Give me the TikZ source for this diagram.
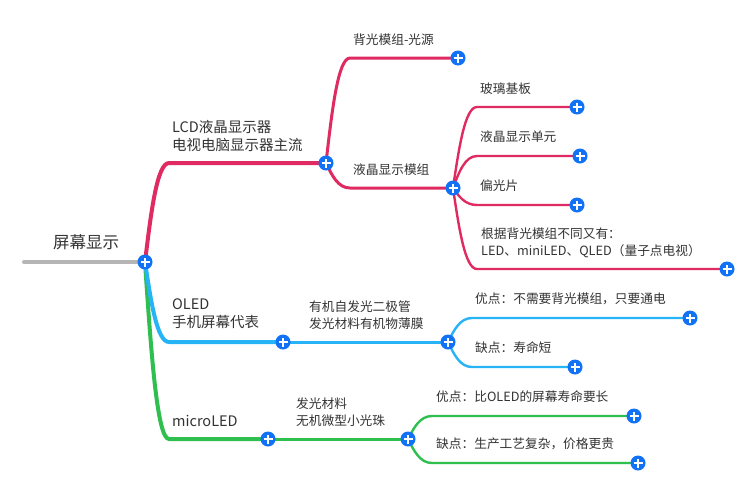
\documentclass[tikz,border=0pt]{standalone}
\usepackage{fontspec}
\setmainfont{Noto Sans CJK SC}
\usetikzlibrary{backgrounds,calc}
\definecolor{lcdc}{HTML}{DF2A62}
\definecolor{oledc}{HTML}{26B4F7}
\definecolor{mledc}{HTML}{2EBF4F}
\definecolor{plusblue}{HTML}{1272F5}
\definecolor{txtc}{HTML}{333333}
\definecolor{rootgray}{HTML}{B5B5B5}
\newcommand\mmbranch[3]{\draw[#1] let \p1=(#2.center), \p2=(#3.center) in (\p1) .. controls (\x1+6,{\y1+0.5*(\y2-\y1)}) and (\x1+12,\y2) .. (\x1+24,\y2) -- (\p2);}
\tikzset{
  plusnode/.style={circle, fill=plusblue, minimum size=15pt, inner sep=0pt,
    path picture={\draw[white, line width=2.2pt]
      (path picture bounding box.center) +(-4.5pt,0) -- +(4.5pt,0)
      (path picture bounding box.center) +(0,-4.5pt) -- +(0,4.5pt);}},
  lab/.style={anchor=west, inner sep=0pt, align=left, text=txtc, font=\fontsize{12.7}{17}\selectfont},
  labone/.style={lab, font=\fontsize{14.5}{18.5}\selectfont},
  labroot/.style={lab, font=\fontsize{16.5}{20}\selectfont},
  wa/.style={line width=4pt, line cap=round},
  wb/.style={line width=3pt, line cap=round},
  wc/.style={line width=2.4pt, line cap=round},
}
\begin{document}
\begin{tikzpicture}[x=1pt, y=-1pt]
\useasboundingbox (0,0) rectangle (744,477);
% plus nodes
\node[plusnode] (p0) at (145,262) {};
\node[plusnode] (p1) at (326,163) {};
\node[plusnode] (p11) at (458,58) {};
\node[plusnode] (p12) at (453,188) {};
\node[plusnode] (p121) at (577,107) {};
\node[plusnode] (p122) at (580,156) {};
\node[plusnode] (p123) at (577,205) {};
\node[plusnode] (p124) at (727,269) {};
\node[plusnode] (p2) at (283,342) {};
\node[plusnode] (p21) at (448,342) {};
\node[plusnode] (p211) at (690,318) {};
\node[plusnode] (p212) at (575,367) {};
\node[plusnode] (p3) at (268,439) {};
\node[plusnode] (p31) at (408,439) {};
\node[plusnode] (p311) at (634,416) {};
\node[plusnode] (p312) at (638,463) {};
\coordinate (rs) at (24,262);
% texts
\node[labroot] (t0) at (53,242) {屏幕显示};
\node[labone] (t1) at (172,136) {LCD液晶显示器\\电视电脑显示器主流};
\node[lab] (t11) at (353,40) {背光模组-光源};
\node[lab] (t12) at (353,170) {液晶显示模组};
\node[lab] (t121) at (480,89) {玻璃基板};
\node[lab] (t122) at (480,137) {液晶显示单元};
\node[lab] (t123) at (480,186) {偏光片};
\node[lab] (t124) at (481,243) {根据背光模组不同又有：\\LED、miniLED、QLED（量子点电视）};
\node[labone] (t2) at (172,313.5) {OLED\\手机屏幕代表};
\node[lab] (t21) at (309,315.5) {有机自发光二极管\\发光材料有机物薄膜};
\node[lab] (t211) at (475,299) {优点：不需要背光模组，只要通电};
\node[lab] (t212) at (475,348) {缺点：寿命短};
\node[labone] (t3) at (172,421) {microLED};
\node[lab] (t31) at (296,412.5) {发光材料\\无机微型小光珠};
\node[lab] (t311) at (436,397) {优点：比OLED的屏幕寿命要长};
\node[lab] (t312) at (436,444) {缺点：生产工艺复杂，价格更贵};
% connectors
\begin{scope}[on background layer]
\fill[white] (0,0) rectangle (744,477);
\draw[wa, rootgray] (rs) -- (p0.center);
\mmbranch{wa, mledc}{p0}{p3}
\mmbranch{wa, oledc}{p0}{p2}
\mmbranch{wa, lcdc}{p0}{p1}
\mmbranch{wb, lcdc}{p1}{p11}
\mmbranch{wb, lcdc}{p1}{p12}
\mmbranch{wc, lcdc}{p12}{p121}
\mmbranch{wc, lcdc}{p12}{p122}
\mmbranch{wc, lcdc}{p12}{p123}
\mmbranch{wc, lcdc}{p12}{p124}
\mmbranch{wb, oledc}{p2}{p21}
\mmbranch{wc, oledc}{p21}{p211}
\mmbranch{wc, oledc}{p21}{p212}
\mmbranch{wb, mledc}{p3}{p31}
\mmbranch{wc, mledc}{p31}{p311}
\mmbranch{wc, mledc}{p31}{p312}
\end{scope}
\end{tikzpicture}
\end{document}
